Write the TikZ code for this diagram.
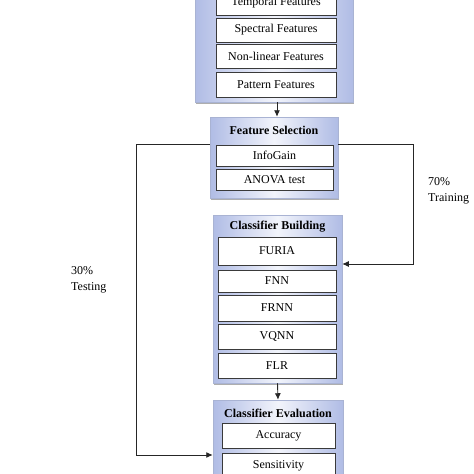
\documentclass[tikz,border=0pt]{standalone}
\usepackage{fontspec}
\setmainfont{Liberation Serif}
\usetikzlibrary{shadows,arrows.meta}
\definecolor{grpedge}{HTML}{B0BCE5}
\definecolor{grpmid}{HTML}{F2F4FB}
\definecolor{grpline}{HTML}{A9B3D3}
\definecolor{boxline}{HTML}{3A3A3A}
\tikzset{
  grp/.style={rectangle, draw=grpline, line width=0.5pt, left color=grpedge, right color=grpedge, middle color=grpmid,
    drop shadow={shadow xshift=1pt, shadow yshift=-1.5pt, fill=black!45, opacity=0.7}, inner sep=0pt},
  item/.style={rectangle, draw=boxline, line width=0.9pt, fill=white, inner sep=0pt,
    font=\fontsize{12}{14}\selectfont},
  ttl/.style={font=\fontsize{12}{14}\selectfont\bfseries, inner sep=0pt},
  lbl/.style={font=\fontsize{12}{16}\selectfont, align=left, anchor=west, inner sep=0pt},
  conn/.style={draw=black!85, line width=0.9pt, -{Latex[length=6.5pt,width=6pt]}},
}
\begin{document}
\begin{tikzpicture}[x=1pt,y=-1pt]
\useasboundingbox (0,0) rectangle (474,474);
% top group
\node[grp, minimum width=158pt, minimum height=116pt] (g1) at (274,44) {};
\node[item, minimum width=120pt, minimum height=24pt] (temp) at (276,3) {Temporal Features};
\node[item, minimum width=120pt, minimum height=24pt] (spec) at (276,30) {Spectral Features};
\node[item, minimum width=120pt, minimum height=24pt] (nonl) at (276,56) {Non-linear Features};
\node[item, minimum width=120pt, minimum height=25pt] (patt) at (276,84.5) {Pattern Features};
% feature selection
\node[grp, minimum width=128pt, minimum height=81pt] (fs) at (274,157.5) {};
\node[ttl] (fst) at (274,130) {Feature Selection};
\node[item, minimum width=117pt, minimum height=21pt] (info) at (274.5,155.5) {InfoGain};
\node[item, minimum width=117pt, minimum height=21pt] (anova) at (274.5,179.5) {ANOVA test};
% classifier building
\node[grp, minimum width=129pt, minimum height=168pt] (cb) at (277.5,299) {};
\node[ttl] (cbt) at (277.5,227) {Classifier Building};
\node[item, minimum width=118pt, minimum height=28pt] (furia) at (277,251) {FURIA};
\node[item, minimum width=118pt, minimum height=22pt] (fnn) at (277,281) {FNN};
\node[item, minimum width=118pt, minimum height=26pt] (frnn) at (277,308) {FRNN};
\node[item, minimum width=118pt, minimum height=25pt] (vqnn) at (277,336.5) {VQNN};
\node[item, minimum width=118pt, minimum height=25pt] (flr) at (277,365.5) {FLR};
% classifier evaluation
\node[grp, minimum width=130pt, minimum height=90pt] (ce) at (278,445) {};
\node[ttl] (cet) at (278,413) {Classifier Evaluation};
\node[item, minimum width=113pt, minimum height=25pt] (acc) at (278.5,435.5) {Accuracy};
\node[item, minimum width=113pt, minimum height=25pt] (sens) at (278.5,465.5) {Sensitivity};
% labels
\node[lbl] (train) at (428,191) {70\%\\Training};
\node[lbl] (test) at (71,280) {30\%\\Testing};
% connectors
\draw[conn] ([xshift=3pt]g1.south) -- ([xshift=3pt]fs.north);
\draw[conn] (cb.south) -- (ce.north);
\draw[conn] ([yshift=13.5pt]fs.east) -- ++(75,0) |- ([yshift=35pt]cb.east);
\draw[conn] ([yshift=13.5pt]fs.west) -- ++(-73,0) |- ([yshift=-10pt]ce.west);
\end{tikzpicture}
\end{document}
